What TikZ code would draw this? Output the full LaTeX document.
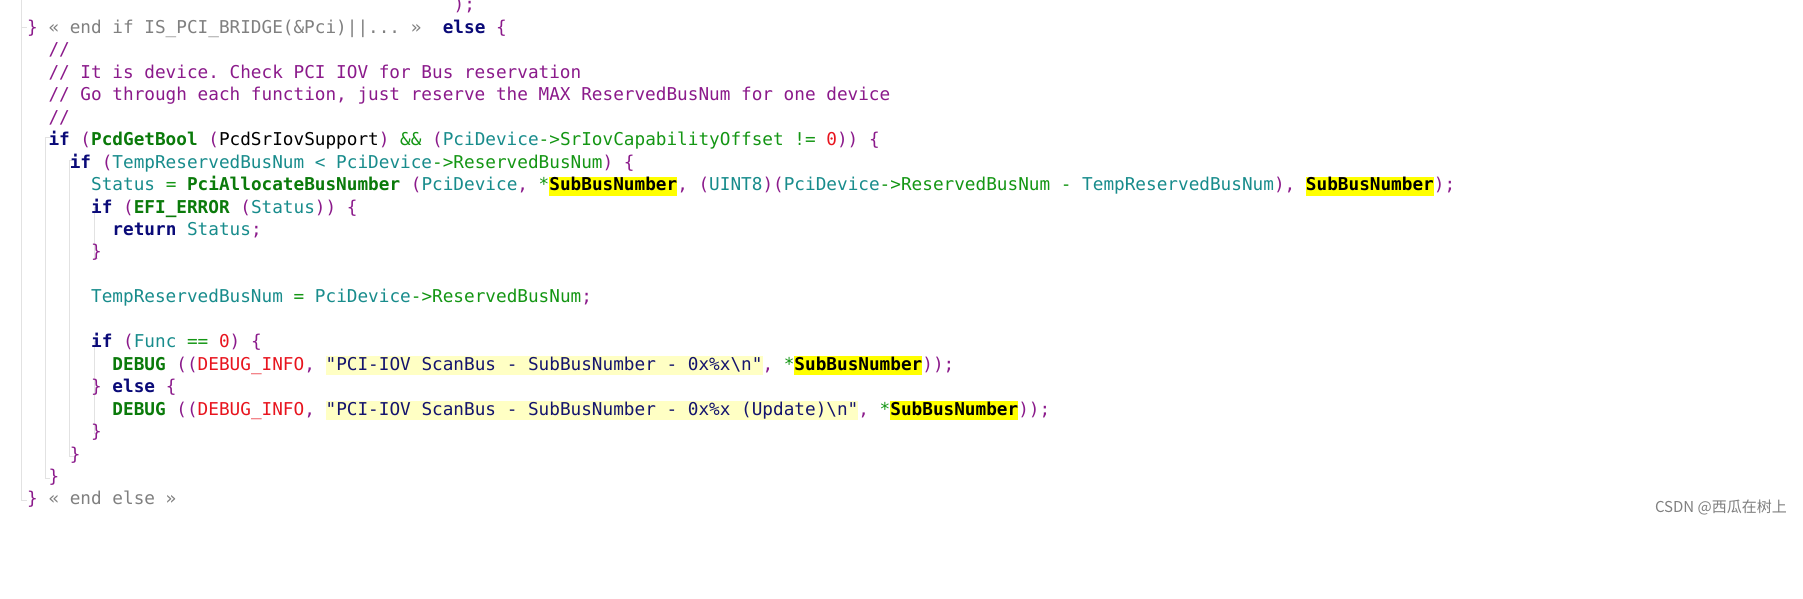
\documentclass[tikz,border=0pt]{standalone}
\usepackage{fontspec}
\usepackage{xcolor}
\setmonofont{DejaVu Sans Mono}
\newfontfamily\cjkf{Noto Sans CJK SC}
\definecolor{kwc}{HTML}{0A0A78}
\definecolor{brc}{HTML}{8B1A8B}
\definecolor{cmc}{HTML}{8B1A8B}
\definecolor{fnc}{HTML}{0A7A0A}
\definecolor{idc}{HTML}{188C8C}
\definecolor{mbc}{HTML}{149614}
\definecolor{rdc}{HTML}{E8141E}
\definecolor{stc}{HTML}{14146E}
\definecolor{stbg}{HTML}{FFFFC4}
\definecolor{hlbg}{HTML}{FFFF00}
\definecolor{grc}{HTML}{808080}
\definecolor{guide}{HTML}{E2E2E2}
\newcommand\kw[1]{\textcolor{kwc}{\bfseries #1}}
\newcommand\br[1]{\textcolor{brc}{#1}}
\newcommand\cm[1]{\textcolor{cmc}{#1}}
\newcommand\fn[1]{\textcolor{fnc}{\bfseries #1}}
\newcommand\idt[1]{\textcolor{idc}{#1}}
\newcommand\mb[1]{\textcolor{mbc}{#1}}
\newcommand\rd[1]{\textcolor{rdc}{#1}}
\newcommand\gr[1]{\textcolor{grc}{#1}}
\newcommand\hstrut{\rule[-5pt]{0pt}{19pt}}
\newcommand\st[1]{{\setlength\fboxsep{0pt}\colorbox{stbg}{\hstrut\textcolor{stc}{#1}}}}
\newcommand\hl[1]{{\setlength\fboxsep{0pt}\colorbox{hlbg}{\hstrut\textcolor{black}{\bfseries #1}}}}
\begin{document}
\begin{tikzpicture}[x=1pt,y=-1pt,
  codeline/.style={anchor=base west,inner sep=0pt,font=\ttfamily\fontsize{17.7}{20}\selectfont},
  guideline/.style={draw=guide,line width=0.8pt}]
\useasboundingbox[fill=white] (0,0) rectangle (1803,599);
% indent guides
\draw[guideline] (21,0) -- (21,500) -- (27,500);
\draw[guideline] (21,27) -- (27,27);
\draw[guideline] (45,137) -- (50,137);
\draw[guideline] (45,137) -- (45,478) -- (50,478);
\draw[guideline] (69,160) -- (72,160);
\draw[guideline] (69,160) -- (69,456) -- (74,456);
\draw[guideline] (94,207) -- (94,258) -- (98,258);
\draw[guideline] (94,207) -- (98,207);
\draw[guideline] (94,341) -- (94,433) -- (98,433);
\draw[guideline] (94,341) -- (98,341);
\draw[guideline] (94,387) -- (98,387);
\def\cw{10.66}
\def\xo{27}
\newcommand\cl[3]{\node[codeline] (#1) at ({\xo+\cw*#2},{11+22.45*#1}) {#3};}
\cl{0}{40}{\br{);}}
\cl{1}{0}{\br{\}} \gr{« end if IS\_PCI\_BRIDGE(\&Pci)||... »}\ \ \kw{else} \br{\{}}
\cl{2}{2}{\cm{//}}
\cl{3}{2}{\cm{// It is device. Check PCI IOV for Bus reservation}}
\cl{4}{2}{\cm{// Go through each function, just reserve the MAX ReservedBusNum for one device}}
\cl{5}{2}{\cm{//}}
\cl{6}{2}{\kw{if} \br{(}\fn{PcdGetBool} \br{(}PcdSrIovSupport\br{)} \mb{\&\&} \br{(}\idt{PciDevice}\mb{->SrIovCapabilityOffset !=} \rd{0}\br{)) \{}}
\cl{7}{4}{\kw{if} \br{(}\idt{TempReservedBusNum < PciDevice}\mb{->ReservedBusNum}\br{) \{}}
\cl{8}{6}{\idt{Status} \mb{=} \fn{PciAllocateBusNumber} \br{(}\idt{PciDevice}\br{,} \mb{*}\hl{SubBusNumber}\br{,} \br{(}\idt{UINT8}\br{)(}\idt{PciDevice}\mb{->ReservedBusNum} \mb{-} \idt{TempReservedBusNum}\br{),} \hl{SubBusNumber}\br{);}}
\cl{9}{6}{\kw{if} \br{(}\fn{EFI\_ERROR} \br{(}\idt{Status}\br{)) \{}}
\cl{10}{8}{\kw{return} \idt{Status}\br{;}}
\cl{11}{6}{\br{\}}}
\cl{13}{6}{\idt{TempReservedBusNum} \mb{=} \idt{PciDevice}\mb{->ReservedBusNum}\br{;}}
\cl{15}{6}{\kw{if} \br{(}\idt{Func} \mb{==} \rd{0}\br{) \{}}
\cl{16}{8}{\fn{DEBUG} \br{((}\rd{DEBUG\_INFO}\br{,} \st{"PCI-IOV ScanBus - SubBusNumber - 0x\%x\textbackslash n"}\br{,} \mb{*}\hl{SubBusNumber}\br{));}}
\cl{17}{6}{\br{\}} \kw{else} \br{\{}}
\cl{18}{8}{\fn{DEBUG} \br{((}\rd{DEBUG\_INFO}\br{,} \st{"PCI-IOV ScanBus - SubBusNumber - 0x\%x (Update)\textbackslash n"}\br{,} \mb{*}\hl{SubBusNumber}\br{));}}
\cl{19}{6}{\br{\}}}
\cl{20}{4}{\br{\}}}
\cl{21}{2}{\br{\}}}
\cl{22}{0}{\br{\}} \gr{« end else »}}
\node[anchor=base east,inner sep=0pt,text=grc,font=\fontsize{15}{18}\selectfont\cjkf] (wm) at (1787,512) {CSDN @西瓜在树上};
\end{tikzpicture}
\end{document}
